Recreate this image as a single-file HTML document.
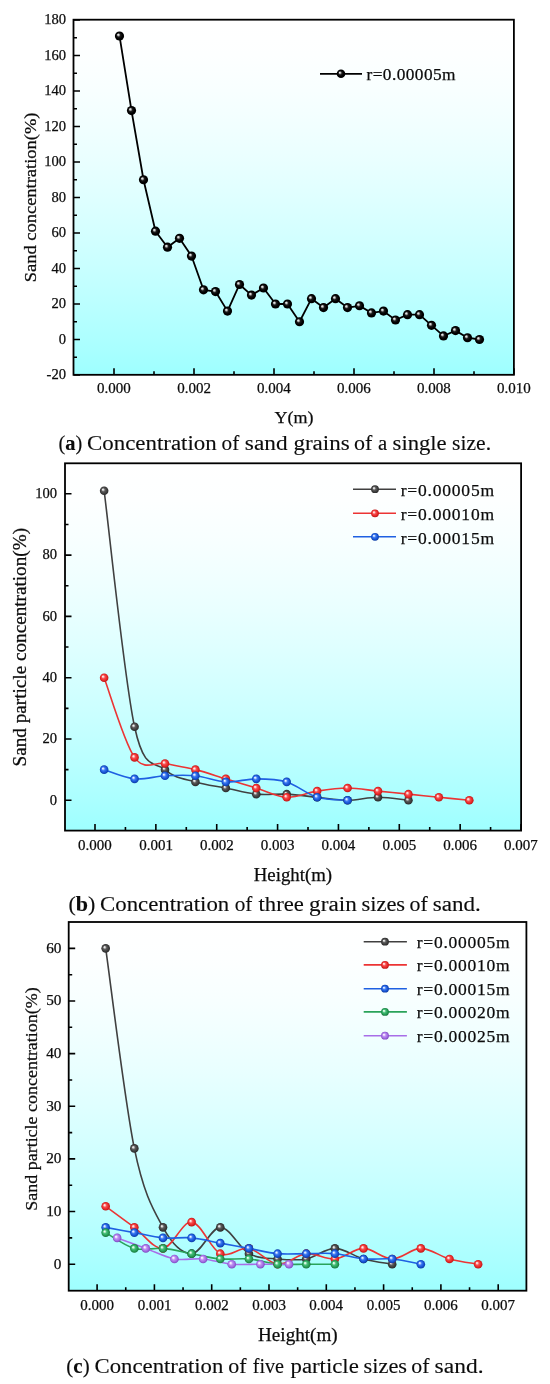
<!DOCTYPE html><html lang="en"><head><meta charset="utf-8"><title>Sand concentration vs height</title>
<style>html,body{margin:0;padding:0;background:#fff;overflow:hidden;}svg{display:block;}text{font-family:"Liberation Serif","Times New Roman",serif;fill:#0c0c0c;stroke:#0c0c0c;stroke-width:0.25px;}text.cap{stroke-width:0.12px;}</style></head><body>
<svg width="550" height="1384" viewBox="0 0 550 1384">
<rect x="0" y="0" width="550" height="1384" fill="#fff"/>
<defs>
<linearGradient id="bg" x1="0" y1="0" x2="0" y2="1"><stop offset="0" stop-color="rgb(255,255,255)"/><stop offset="0.1" stop-color="rgb(253,255,255)"/><stop offset="0.2" stop-color="rgb(248,255,255)"/><stop offset="0.3" stop-color="rgb(241,255,255)"/><stop offset="0.4" stop-color="rgb(233,255,255)"/><stop offset="0.5" stop-color="rgb(223,255,255)"/><stop offset="0.6" stop-color="rgb(212,255,255)"/><stop offset="0.7" stop-color="rgb(200,255,255)"/><stop offset="0.8" stop-color="rgb(187,255,255)"/><stop offset="0.9" stop-color="rgb(173,255,255)"/><stop offset="1" stop-color="rgb(158,255,255)"/></linearGradient>
<radialGradient id="sk" cx="0.5" cy="0.5" r="0.52" fx="0.34" fy="0.34"><stop offset="0" stop-color="#ffffff"/><stop offset="0.16" stop-color="#c8c8c8"/><stop offset="0.4" stop-color="#1c1c1c"/><stop offset="0.7" stop-color="#000000"/><stop offset="1" stop-color="#000000"/></radialGradient>
<radialGradient id="sk2" cx="0.5" cy="0.5" r="0.52" fx="0.34" fy="0.34"><stop offset="0" stop-color="#ffffff"/><stop offset="0.16" stop-color="#d8d8d8"/><stop offset="0.4" stop-color="#5e5e5e"/><stop offset="0.7" stop-color="#404040"/><stop offset="1" stop-color="#262626"/></radialGradient>
<radialGradient id="sr" cx="0.5" cy="0.5" r="0.52" fx="0.34" fy="0.34"><stop offset="0" stop-color="#ffffff"/><stop offset="0.16" stop-color="#ffd0d0"/><stop offset="0.4" stop-color="#f65050"/><stop offset="0.7" stop-color="#ea2a2a"/><stop offset="1" stop-color="#b81414"/></radialGradient>
<radialGradient id="sb" cx="0.5" cy="0.5" r="0.52" fx="0.34" fy="0.34"><stop offset="0" stop-color="#ffffff"/><stop offset="0.16" stop-color="#c8dcff"/><stop offset="0.4" stop-color="#3c7af0"/><stop offset="0.7" stop-color="#1a56d8"/><stop offset="1" stop-color="#0a3aa0"/></radialGradient>
<radialGradient id="sg" cx="0.5" cy="0.5" r="0.52" fx="0.34" fy="0.34"><stop offset="0" stop-color="#ffffff"/><stop offset="0.16" stop-color="#d0f4de"/><stop offset="0.4" stop-color="#48c07a"/><stop offset="0.7" stop-color="#28a058"/><stop offset="1" stop-color="#17743c"/></radialGradient>
<radialGradient id="sp" cx="0.5" cy="0.5" r="0.52" fx="0.34" fy="0.34"><stop offset="0" stop-color="#ffffff"/><stop offset="0.16" stop-color="#f2e4ff"/><stop offset="0.4" stop-color="#bf92f2"/><stop offset="0.7" stop-color="#a46ee4"/><stop offset="1" stop-color="#7a46bc"/></radialGradient>
</defs>
<rect x="73.5" y="19.7" width="440.4" height="355.1" fill="url(#bg)"/>
<path d="M73.5,375H80M73.5,339.5H80M73.5,304H80M73.5,268.5H80M73.5,233H80M73.5,197.5H80M73.5,162H80M73.5,126.5H80M73.5,91H80M73.5,55.5H80M73.5,20H80M73.5,357.25H77M73.5,321.75H77M73.5,286.25H77M73.5,250.75H77M73.5,215.25H77M73.5,179.75H77M73.5,144.25H77M73.5,108.75H77M73.5,73.25H77M73.5,37.75H77" stroke="#000" stroke-width="1.6" fill="none"/>
<path d="M114,374.8V368.3M194,374.8V368.3M274,374.8V368.3M354,374.8V368.3M434,374.8V368.3M514,374.8V368.3M154,374.8V371.3M234,374.8V371.3M314,374.8V371.3M394,374.8V371.3M474,374.8V371.3" stroke="#000" stroke-width="1.6" fill="none"/>
<rect x="73.5" y="19.7" width="440.4" height="355.1" fill="none" stroke="#000" stroke-width="1.8"/>
<text x="46.59" y="379" font-size="14.6" textLength="19.46" lengthAdjust="spacingAndGlyphs">-20</text>
<text x="58.76" y="343.5" font-size="14.6" textLength="7.3" lengthAdjust="spacingAndGlyphs">0</text>
<text x="51.46" y="308" font-size="14.6" textLength="14.6" lengthAdjust="spacingAndGlyphs">20</text>
<text x="51.46" y="272.5" font-size="14.6" textLength="14.6" lengthAdjust="spacingAndGlyphs">40</text>
<text x="51.46" y="237" font-size="14.6" textLength="14.6" lengthAdjust="spacingAndGlyphs">60</text>
<text x="51.46" y="201.5" font-size="14.6" textLength="14.6" lengthAdjust="spacingAndGlyphs">80</text>
<text x="44.16" y="166" font-size="14.6" textLength="21.9" lengthAdjust="spacingAndGlyphs">100</text>
<text x="44.16" y="130.5" font-size="14.6" textLength="21.9" lengthAdjust="spacingAndGlyphs">120</text>
<text x="44.16" y="95" font-size="14.6" textLength="21.9" lengthAdjust="spacingAndGlyphs">140</text>
<text x="44.16" y="59.5" font-size="14.6" textLength="21.9" lengthAdjust="spacingAndGlyphs">160</text>
<text x="44.16" y="24" font-size="14.6" textLength="21.9" lengthAdjust="spacingAndGlyphs">180</text>
<text x="97.12" y="393.3" font-size="15" textLength="33.75" lengthAdjust="spacingAndGlyphs">0.000</text>
<text x="177.25" y="393.3" font-size="15" textLength="33.75" lengthAdjust="spacingAndGlyphs">0.002</text>
<text x="256.96" y="393.3" font-size="15" textLength="33.75" lengthAdjust="spacingAndGlyphs">0.004</text>
<text x="337.06" y="393.3" font-size="15" textLength="33.75" lengthAdjust="spacingAndGlyphs">0.006</text>
<text x="417.12" y="393.3" font-size="15" textLength="33.75" lengthAdjust="spacingAndGlyphs">0.008</text>
<text x="497.12" y="393.3" font-size="15" textLength="33.75" lengthAdjust="spacingAndGlyphs">0.010</text>
<text transform="translate(35.5,282.23) rotate(-90)" x="0" y="0" font-size="17.5" textLength="169.65" lengthAdjust="spacingAndGlyphs">Sand concentration(%)</text>
<text x="274.4" y="422.8" font-size="17.7" textLength="38.99" lengthAdjust="spacingAndGlyphs">Y(m)</text>
<path d="M119.5,35.98 L131.5,110.53 L143.5,179.75 L155.5,231.22 L167.5,247.2 L179.5,238.33 L191.5,256.07 L203.5,289.8 L215.5,291.57 L227.5,311.1 L239.5,284.48 L251.5,295.12 L263.5,288.02 L275.5,304 L287.5,304 L299.5,321.75 L311.5,298.68 L323.5,307.55 L335.5,298.68 L347.5,307.55 L359.5,305.77 L371.5,312.88 L383.5,311.1 L395.5,319.98 L407.5,314.65 L419.5,314.65 L431.5,325.3 L443.5,335.95 L455.5,330.62 L467.5,337.73 L479.5,339.5" fill="none" stroke="#000" stroke-width="1.8" stroke-linejoin="round"/>
<circle cx="119.5" cy="35.98" r="4.6" fill="url(#sk)"/>
<circle cx="131.5" cy="110.53" r="4.6" fill="url(#sk)"/>
<circle cx="143.5" cy="179.75" r="4.6" fill="url(#sk)"/>
<circle cx="155.5" cy="231.22" r="4.6" fill="url(#sk)"/>
<circle cx="167.5" cy="247.2" r="4.6" fill="url(#sk)"/>
<circle cx="179.5" cy="238.33" r="4.6" fill="url(#sk)"/>
<circle cx="191.5" cy="256.07" r="4.6" fill="url(#sk)"/>
<circle cx="203.5" cy="289.8" r="4.6" fill="url(#sk)"/>
<circle cx="215.5" cy="291.57" r="4.6" fill="url(#sk)"/>
<circle cx="227.5" cy="311.1" r="4.6" fill="url(#sk)"/>
<circle cx="239.5" cy="284.48" r="4.6" fill="url(#sk)"/>
<circle cx="251.5" cy="295.12" r="4.6" fill="url(#sk)"/>
<circle cx="263.5" cy="288.02" r="4.6" fill="url(#sk)"/>
<circle cx="275.5" cy="304" r="4.6" fill="url(#sk)"/>
<circle cx="287.5" cy="304" r="4.6" fill="url(#sk)"/>
<circle cx="299.5" cy="321.75" r="4.6" fill="url(#sk)"/>
<circle cx="311.5" cy="298.68" r="4.6" fill="url(#sk)"/>
<circle cx="323.5" cy="307.55" r="4.6" fill="url(#sk)"/>
<circle cx="335.5" cy="298.68" r="4.6" fill="url(#sk)"/>
<circle cx="347.5" cy="307.55" r="4.6" fill="url(#sk)"/>
<circle cx="359.5" cy="305.77" r="4.6" fill="url(#sk)"/>
<circle cx="371.5" cy="312.88" r="4.6" fill="url(#sk)"/>
<circle cx="383.5" cy="311.1" r="4.6" fill="url(#sk)"/>
<circle cx="395.5" cy="319.98" r="4.6" fill="url(#sk)"/>
<circle cx="407.5" cy="314.65" r="4.6" fill="url(#sk)"/>
<circle cx="419.5" cy="314.65" r="4.6" fill="url(#sk)"/>
<circle cx="431.5" cy="325.3" r="4.6" fill="url(#sk)"/>
<circle cx="443.5" cy="335.95" r="4.6" fill="url(#sk)"/>
<circle cx="455.5" cy="330.62" r="4.6" fill="url(#sk)"/>
<circle cx="467.5" cy="337.73" r="4.6" fill="url(#sk)"/>
<circle cx="479.5" cy="339.5" r="4.6" fill="url(#sk)"/>
<line x1="320" y1="73.8" x2="362" y2="73.8" stroke="#000" stroke-width="1.8"/>
<circle cx="341" cy="73.8" r="4.3" fill="url(#sk)"/>
<text x="366.45" y="79.8" font-size="17.3" textLength="89.12" lengthAdjust="spacing">r=0.00005m</text>
<rect x="65" y="463.3" width="456.1" height="367.3" fill="url(#bg)"/>
<path d="M65,800.3H71.5M65,739H71.5M65,677.7H71.5M65,616.4H71.5M65,555.1H71.5M65,493.8H71.5M65,769.65H68.5M65,708.35H68.5M65,647.05H68.5M65,585.75H68.5M65,524.45H68.5" stroke="#000" stroke-width="1.6" fill="none"/>
<path d="M95,830.6V824.1M155.86,830.6V824.1M216.72,830.6V824.1M277.58,830.6V824.1M338.44,830.6V824.1M399.3,830.6V824.1M460.16,830.6V824.1M521.02,830.6V824.1M125.43,830.6V827.1M186.29,830.6V827.1M247.15,830.6V827.1M308.01,830.6V827.1M368.87,830.6V827.1M429.73,830.6V827.1M490.59,830.6V827.1" stroke="#000" stroke-width="1.6" fill="none"/>
<rect x="65" y="463.3" width="456.1" height="367.3" fill="none" stroke="#000" stroke-width="1.8"/>
<text x="49.86" y="804.5" font-size="14.6" textLength="7.3" lengthAdjust="spacingAndGlyphs">0</text>
<text x="42.56" y="743.2" font-size="14.6" textLength="14.6" lengthAdjust="spacingAndGlyphs">20</text>
<text x="42.56" y="681.9" font-size="14.6" textLength="14.6" lengthAdjust="spacingAndGlyphs">40</text>
<text x="42.56" y="620.6" font-size="14.6" textLength="14.6" lengthAdjust="spacingAndGlyphs">60</text>
<text x="42.56" y="559.3" font-size="14.6" textLength="14.6" lengthAdjust="spacingAndGlyphs">80</text>
<text x="35.26" y="498" font-size="14.6" textLength="21.9" lengthAdjust="spacingAndGlyphs">100</text>
<text x="78.12" y="850.4" font-size="15" textLength="33.75" lengthAdjust="spacingAndGlyphs">0.000</text>
<text x="139.15" y="850.4" font-size="15" textLength="33.75" lengthAdjust="spacingAndGlyphs">0.001</text>
<text x="199.97" y="850.4" font-size="15" textLength="33.75" lengthAdjust="spacingAndGlyphs">0.002</text>
<text x="260.71" y="850.4" font-size="15" textLength="33.75" lengthAdjust="spacingAndGlyphs">0.003</text>
<text x="321.4" y="850.4" font-size="15" textLength="33.75" lengthAdjust="spacingAndGlyphs">0.004</text>
<text x="382.43" y="850.4" font-size="15" textLength="33.75" lengthAdjust="spacingAndGlyphs">0.005</text>
<text x="443.22" y="850.4" font-size="15" textLength="33.75" lengthAdjust="spacingAndGlyphs">0.006</text>
<text x="504.08" y="850.4" font-size="15" textLength="33.75" lengthAdjust="spacingAndGlyphs">0.007</text>
<text transform="translate(25.6,766.48) rotate(-90)" x="0" y="0" font-size="18" textLength="238.53" lengthAdjust="spacingAndGlyphs">Sand particle concentration(%)</text>
<text x="253.76" y="880.9" font-size="19" textLength="78.27" lengthAdjust="spacingAndGlyphs">Height(m)</text>
<path d="M104.13,490.73 C109.2,530.07 124.42,680.25 134.56,726.74 C144.7,773.23 154.85,760.45 164.99,769.65 C175.13,778.85 185.28,778.85 195.42,781.91 C205.56,784.97 215.71,786 225.85,788.04 C235.99,790.08 246.14,793.15 256.28,794.17 C266.42,795.19 276.57,793.66 286.71,794.17 C296.85,794.68 307,796.21 317.14,797.23 C327.28,798.26 337.43,800.3 347.57,800.3 C357.71,800.3 367.86,797.23 378,797.23 C388.14,797.23 403.36,799.79 408.43,800.3" fill="none" stroke="#404040" stroke-width="1.6"/>
<path d="M104.13,677.7 C109.2,690.98 124.42,743.09 134.56,757.39 C144.7,771.69 154.85,761.48 164.99,763.52 C175.13,765.56 185.28,767.1 195.42,769.65 C205.56,772.2 215.71,775.78 225.85,778.84 C235.99,781.91 246.14,784.97 256.28,788.04 C266.42,791.11 276.57,796.72 286.71,797.23 C296.85,797.75 307,792.64 317.14,791.1 C327.28,789.57 337.43,788.04 347.57,788.04 C357.71,788.04 367.86,790.08 378,791.1 C388.14,792.13 398.29,793.15 408.43,794.17 C418.57,795.19 428.72,796.21 438.86,797.23 C449,798.26 464.22,799.79 469.29,800.3" fill="none" stroke="#ec3434" stroke-width="1.6"/>
<path d="M104.13,769.65 C109.2,771.18 124.42,777.82 134.56,778.84 C144.7,779.87 154.85,776.29 164.99,775.78 C175.13,775.27 185.28,774.76 195.42,775.78 C205.56,776.8 215.71,781.4 225.85,781.91 C235.99,782.42 246.14,778.84 256.28,778.84 C266.42,778.84 276.57,778.85 286.71,781.91 C296.85,784.97 307,794.17 317.14,797.23 C327.28,800.3 342.5,799.79 347.57,800.3" fill="none" stroke="#1f60e2" stroke-width="1.6"/>
<circle cx="104.13" cy="490.73" r="4.3" fill="url(#sk2)"/>
<circle cx="134.56" cy="726.74" r="4.3" fill="url(#sk2)"/>
<circle cx="164.99" cy="769.65" r="4.3" fill="url(#sk2)"/>
<circle cx="195.42" cy="781.91" r="4.3" fill="url(#sk2)"/>
<circle cx="225.85" cy="788.04" r="4.3" fill="url(#sk2)"/>
<circle cx="256.28" cy="794.17" r="4.3" fill="url(#sk2)"/>
<circle cx="286.71" cy="794.17" r="4.3" fill="url(#sk2)"/>
<circle cx="317.14" cy="797.23" r="4.3" fill="url(#sk2)"/>
<circle cx="347.57" cy="800.3" r="4.3" fill="url(#sk2)"/>
<circle cx="378" cy="797.23" r="4.3" fill="url(#sk2)"/>
<circle cx="408.43" cy="800.3" r="4.3" fill="url(#sk2)"/>
<circle cx="104.13" cy="677.7" r="4.3" fill="url(#sr)"/>
<circle cx="134.56" cy="757.39" r="4.3" fill="url(#sr)"/>
<circle cx="164.99" cy="763.52" r="4.3" fill="url(#sr)"/>
<circle cx="195.42" cy="769.65" r="4.3" fill="url(#sr)"/>
<circle cx="225.85" cy="778.84" r="4.3" fill="url(#sr)"/>
<circle cx="256.28" cy="788.04" r="4.3" fill="url(#sr)"/>
<circle cx="286.71" cy="797.23" r="4.3" fill="url(#sr)"/>
<circle cx="317.14" cy="791.1" r="4.3" fill="url(#sr)"/>
<circle cx="347.57" cy="788.04" r="4.3" fill="url(#sr)"/>
<circle cx="378" cy="791.1" r="4.3" fill="url(#sr)"/>
<circle cx="408.43" cy="794.17" r="4.3" fill="url(#sr)"/>
<circle cx="438.86" cy="797.23" r="4.3" fill="url(#sr)"/>
<circle cx="469.29" cy="800.3" r="4.3" fill="url(#sr)"/>
<circle cx="104.13" cy="769.65" r="4.3" fill="url(#sb)"/>
<circle cx="134.56" cy="778.84" r="4.3" fill="url(#sb)"/>
<circle cx="164.99" cy="775.78" r="4.3" fill="url(#sb)"/>
<circle cx="195.42" cy="775.78" r="4.3" fill="url(#sb)"/>
<circle cx="225.85" cy="781.91" r="4.3" fill="url(#sb)"/>
<circle cx="256.28" cy="778.84" r="4.3" fill="url(#sb)"/>
<circle cx="286.71" cy="781.91" r="4.3" fill="url(#sb)"/>
<circle cx="317.14" cy="797.23" r="4.3" fill="url(#sb)"/>
<circle cx="347.57" cy="800.3" r="4.3" fill="url(#sb)"/>
<line x1="353" y1="489.2" x2="396" y2="489.2" stroke="#404040" stroke-width="1.6"/>
<circle cx="375" cy="489.2" r="3.9" fill="url(#sk2)"/>
<text x="400.75" y="496.1" font-size="17.5" textLength="93.32" lengthAdjust="spacing">r=0.00005m</text>
<line x1="353" y1="513.3" x2="396" y2="513.3" stroke="#ec3434" stroke-width="1.6"/>
<circle cx="375" cy="513.3" r="3.9" fill="url(#sr)"/>
<text x="400.75" y="520.2" font-size="17.5" textLength="93.32" lengthAdjust="spacing">r=0.00010m</text>
<line x1="353" y1="536.8" x2="396" y2="536.8" stroke="#1f60e2" stroke-width="1.6"/>
<circle cx="375" cy="536.8" r="3.9" fill="url(#sb)"/>
<text x="400.75" y="543.7" font-size="17.5" textLength="93.32" lengthAdjust="spacing">r=0.00015m</text>
<rect x="68.7" y="922" width="457.7" height="368.7" fill="url(#bg)"/>
<path d="M68.7,1264.2H75.2M68.7,1211.56H75.2M68.7,1158.92H75.2M68.7,1106.28H75.2M68.7,1053.64H75.2M68.7,1001H75.2M68.7,948.36H75.2M68.7,1237.88H72.2M68.7,1185.24H72.2M68.7,1132.6H72.2M68.7,1079.96H72.2M68.7,1027.32H72.2M68.7,974.68H72.2" stroke="#000" stroke-width="1.6" fill="none"/>
<path d="M97.1,1290.7V1284.2M154.4,1290.7V1284.2M211.7,1290.7V1284.2M269,1290.7V1284.2M326.3,1290.7V1284.2M383.6,1290.7V1284.2M440.9,1290.7V1284.2M498.2,1290.7V1284.2M125.75,1290.7V1287.2M183.05,1290.7V1287.2M240.35,1290.7V1287.2M297.65,1290.7V1287.2M354.95,1290.7V1287.2M412.25,1290.7V1287.2M469.55,1290.7V1287.2" stroke="#000" stroke-width="1.6" fill="none"/>
<rect x="68.7" y="922" width="457.7" height="368.7" fill="none" stroke="#000" stroke-width="1.8"/>
<text x="53.83" y="1268.5" font-size="15.3" textLength="7.65" lengthAdjust="spacingAndGlyphs">0</text>
<text x="46.18" y="1215.86" font-size="15.3" textLength="15.3" lengthAdjust="spacingAndGlyphs">10</text>
<text x="46.18" y="1163.22" font-size="15.3" textLength="15.3" lengthAdjust="spacingAndGlyphs">20</text>
<text x="46.18" y="1110.58" font-size="15.3" textLength="15.3" lengthAdjust="spacingAndGlyphs">30</text>
<text x="46.18" y="1057.94" font-size="15.3" textLength="15.3" lengthAdjust="spacingAndGlyphs">40</text>
<text x="46.18" y="1005.3" font-size="15.3" textLength="15.3" lengthAdjust="spacingAndGlyphs">50</text>
<text x="46.18" y="952.66" font-size="15.3" textLength="15.3" lengthAdjust="spacingAndGlyphs">60</text>
<text x="80.22" y="1310.2" font-size="15" textLength="33.75" lengthAdjust="spacingAndGlyphs">0.000</text>
<text x="137.69" y="1310.2" font-size="15" textLength="33.75" lengthAdjust="spacingAndGlyphs">0.001</text>
<text x="194.95" y="1310.2" font-size="15" textLength="33.75" lengthAdjust="spacingAndGlyphs">0.002</text>
<text x="252.13" y="1310.2" font-size="15" textLength="33.75" lengthAdjust="spacingAndGlyphs">0.003</text>
<text x="309.26" y="1310.2" font-size="15" textLength="33.75" lengthAdjust="spacingAndGlyphs">0.004</text>
<text x="366.73" y="1310.2" font-size="15" textLength="33.75" lengthAdjust="spacingAndGlyphs">0.005</text>
<text x="423.96" y="1310.2" font-size="15" textLength="33.75" lengthAdjust="spacingAndGlyphs">0.006</text>
<text x="481.26" y="1310.2" font-size="15" textLength="33.75" lengthAdjust="spacingAndGlyphs">0.007</text>
<text transform="translate(37.4,1210.7) rotate(-90)" x="0" y="0" font-size="17.5" textLength="223.39" lengthAdjust="spacingAndGlyphs">Sand particle concentration(%)</text>
<text x="258.05" y="1340.8" font-size="19" textLength="79.59" lengthAdjust="spacingAndGlyphs">Height(m)</text>
<path d="M105.69,948.36 C110.47,981.7 124.8,1101.89 134.34,1148.39 C143.9,1194.89 153.44,1209.81 163,1227.35 C172.55,1244.9 182.09,1253.67 191.64,1253.67 C201.19,1253.67 210.74,1227.35 220.29,1227.35 C229.84,1227.35 239.39,1248.41 248.94,1253.67 C258.5,1258.94 268.05,1258.06 277.6,1258.94 C287.15,1259.81 296.69,1260.69 306.25,1258.94 C315.8,1257.18 325.34,1248.41 334.89,1248.41 C344.44,1248.41 354,1256.3 363.55,1258.94 C373.1,1261.57 387.42,1263.32 392.2,1264.2" fill="none" stroke="#404040" stroke-width="1.6"/>
<path d="M105.69,1206.3 C110.47,1209.81 124.8,1220.33 134.34,1227.35 C143.9,1234.37 153.44,1249.29 163,1248.41 C172.55,1247.53 182.09,1221.21 191.64,1222.09 C201.19,1222.97 210.74,1249.29 220.29,1253.67 C229.84,1258.06 239.39,1246.65 248.94,1248.41 C258.5,1250.16 268.05,1263.32 277.6,1264.2 C287.15,1265.08 296.69,1254.55 306.25,1253.67 C315.8,1252.79 325.34,1259.81 334.89,1258.94 C344.44,1258.06 354,1248.41 363.55,1248.41 C373.1,1248.41 382.65,1258.94 392.2,1258.94 C401.75,1258.94 411.3,1248.41 420.85,1248.41 C430.4,1248.41 439.94,1256.3 449.5,1258.94 C459.05,1261.57 473.37,1263.32 478.14,1264.2" fill="none" stroke="#ec3434" stroke-width="1.6"/>
<path d="M105.69,1227.35 C110.47,1228.23 124.8,1230.86 134.34,1232.62 C143.9,1234.37 153.44,1237 163,1237.88 C172.55,1238.76 182.09,1237 191.64,1237.88 C201.19,1238.76 210.74,1241.39 220.29,1243.14 C229.84,1244.9 239.39,1246.65 248.94,1248.41 C258.5,1250.16 268.05,1252.79 277.6,1253.67 C287.15,1254.55 296.69,1253.67 306.25,1253.67 C315.8,1253.67 325.34,1252.79 334.89,1253.67 C344.44,1254.55 354,1258.06 363.55,1258.94 C373.1,1259.81 382.65,1258.06 392.2,1258.94 C401.75,1259.81 416.07,1263.32 420.85,1264.2" fill="none" stroke="#1f60e2" stroke-width="1.6"/>
<path d="M105.69,1232.62 C110.47,1235.25 124.8,1245.78 134.34,1248.41 C143.9,1251.04 153.44,1247.53 163,1248.41 C172.55,1249.29 182.09,1251.92 191.64,1253.67 C201.19,1255.43 210.74,1258.06 220.29,1258.94 C229.84,1259.81 239.39,1258.06 248.94,1258.94 C258.5,1259.81 268.05,1263.32 277.6,1264.2 C287.15,1265.08 296.69,1264.2 306.25,1264.2 C315.8,1264.2 330.12,1264.2 334.89,1264.2" fill="none" stroke="#2aa35a" stroke-width="1.6"/>
<path d="M117.16,1237.88 C121.93,1239.63 136.25,1244.9 145.81,1248.41 C155.36,1251.92 164.9,1257.18 174.45,1258.94 C184,1260.69 193.56,1258.06 203.11,1258.94 C212.66,1259.81 222.21,1263.32 231.75,1264.2 C241.3,1265.08 250.85,1264.2 260.4,1264.2 C269.95,1264.2 284.28,1264.2 289.06,1264.2" fill="none" stroke="#a86ee8" stroke-width="1.6"/>
<circle cx="105.69" cy="948.36" r="4.3" fill="url(#sk2)"/>
<circle cx="134.34" cy="1148.39" r="4.3" fill="url(#sk2)"/>
<circle cx="163" cy="1227.35" r="4.3" fill="url(#sk2)"/>
<circle cx="191.64" cy="1253.67" r="4.3" fill="url(#sk2)"/>
<circle cx="220.29" cy="1227.35" r="4.3" fill="url(#sk2)"/>
<circle cx="248.94" cy="1253.67" r="4.3" fill="url(#sk2)"/>
<circle cx="277.6" cy="1258.94" r="4.3" fill="url(#sk2)"/>
<circle cx="306.25" cy="1258.94" r="4.3" fill="url(#sk2)"/>
<circle cx="334.89" cy="1248.41" r="4.3" fill="url(#sk2)"/>
<circle cx="363.55" cy="1258.94" r="4.3" fill="url(#sk2)"/>
<circle cx="392.2" cy="1264.2" r="4.3" fill="url(#sk2)"/>
<circle cx="105.69" cy="1206.3" r="4.3" fill="url(#sr)"/>
<circle cx="134.34" cy="1227.35" r="4.3" fill="url(#sr)"/>
<circle cx="163" cy="1248.41" r="4.3" fill="url(#sr)"/>
<circle cx="191.64" cy="1222.09" r="4.3" fill="url(#sr)"/>
<circle cx="220.29" cy="1253.67" r="4.3" fill="url(#sr)"/>
<circle cx="248.94" cy="1248.41" r="4.3" fill="url(#sr)"/>
<circle cx="277.6" cy="1264.2" r="4.3" fill="url(#sr)"/>
<circle cx="306.25" cy="1253.67" r="4.3" fill="url(#sr)"/>
<circle cx="334.89" cy="1258.94" r="4.3" fill="url(#sr)"/>
<circle cx="363.55" cy="1248.41" r="4.3" fill="url(#sr)"/>
<circle cx="392.2" cy="1258.94" r="4.3" fill="url(#sr)"/>
<circle cx="420.85" cy="1248.41" r="4.3" fill="url(#sr)"/>
<circle cx="449.5" cy="1258.94" r="4.3" fill="url(#sr)"/>
<circle cx="478.14" cy="1264.2" r="4.3" fill="url(#sr)"/>
<circle cx="105.69" cy="1227.35" r="4.3" fill="url(#sb)"/>
<circle cx="134.34" cy="1232.62" r="4.3" fill="url(#sb)"/>
<circle cx="163" cy="1237.88" r="4.3" fill="url(#sb)"/>
<circle cx="191.64" cy="1237.88" r="4.3" fill="url(#sb)"/>
<circle cx="220.29" cy="1243.14" r="4.3" fill="url(#sb)"/>
<circle cx="248.94" cy="1248.41" r="4.3" fill="url(#sb)"/>
<circle cx="277.6" cy="1253.67" r="4.3" fill="url(#sb)"/>
<circle cx="306.25" cy="1253.67" r="4.3" fill="url(#sb)"/>
<circle cx="334.89" cy="1253.67" r="4.3" fill="url(#sb)"/>
<circle cx="363.55" cy="1258.94" r="4.3" fill="url(#sb)"/>
<circle cx="392.2" cy="1258.94" r="4.3" fill="url(#sb)"/>
<circle cx="420.85" cy="1264.2" r="4.3" fill="url(#sb)"/>
<circle cx="105.69" cy="1232.62" r="4.3" fill="url(#sg)"/>
<circle cx="134.34" cy="1248.41" r="4.3" fill="url(#sg)"/>
<circle cx="163" cy="1248.41" r="4.3" fill="url(#sg)"/>
<circle cx="191.64" cy="1253.67" r="4.3" fill="url(#sg)"/>
<circle cx="220.29" cy="1258.94" r="4.3" fill="url(#sg)"/>
<circle cx="248.94" cy="1258.94" r="4.3" fill="url(#sg)"/>
<circle cx="277.6" cy="1264.2" r="4.3" fill="url(#sg)"/>
<circle cx="306.25" cy="1264.2" r="4.3" fill="url(#sg)"/>
<circle cx="334.89" cy="1264.2" r="4.3" fill="url(#sg)"/>
<circle cx="117.16" cy="1237.88" r="4.3" fill="url(#sp)"/>
<circle cx="145.81" cy="1248.41" r="4.3" fill="url(#sp)"/>
<circle cx="174.45" cy="1258.94" r="4.3" fill="url(#sp)"/>
<circle cx="203.11" cy="1258.94" r="4.3" fill="url(#sp)"/>
<circle cx="231.75" cy="1264.2" r="4.3" fill="url(#sp)"/>
<circle cx="260.4" cy="1264.2" r="4.3" fill="url(#sp)"/>
<circle cx="289.06" cy="1264.2" r="4.3" fill="url(#sp)"/>
<line x1="363.7" y1="941.7" x2="406.9" y2="941.7" stroke="#404040" stroke-width="1.6"/>
<circle cx="385" cy="941.7" r="3.9" fill="url(#sk2)"/>
<text x="416.75" y="947.7" font-size="17.5" textLength="92.92" lengthAdjust="spacing">r=0.00005m</text>
<line x1="363.7" y1="964.9" x2="406.9" y2="964.9" stroke="#ec3434" stroke-width="1.6"/>
<circle cx="385" cy="964.9" r="3.9" fill="url(#sr)"/>
<text x="416.75" y="970.9" font-size="17.5" textLength="92.92" lengthAdjust="spacing">r=0.00010m</text>
<line x1="363.7" y1="988.7" x2="406.9" y2="988.7" stroke="#1f60e2" stroke-width="1.6"/>
<circle cx="385" cy="988.7" r="3.9" fill="url(#sb)"/>
<text x="416.75" y="994.7" font-size="17.5" textLength="92.92" lengthAdjust="spacing">r=0.00015m</text>
<line x1="363.7" y1="1011.9" x2="406.9" y2="1011.9" stroke="#2aa35a" stroke-width="1.6"/>
<circle cx="385" cy="1011.9" r="3.9" fill="url(#sg)"/>
<text x="416.75" y="1017.9" font-size="17.5" textLength="92.92" lengthAdjust="spacing">r=0.00020m</text>
<line x1="363.7" y1="1035.7" x2="406.9" y2="1035.7" stroke="#a86ee8" stroke-width="1.6"/>
<circle cx="385" cy="1035.7" r="3.9" fill="url(#sp)"/>
<text x="416.75" y="1041.7" font-size="17.5" textLength="92.92" lengthAdjust="spacing">r=0.00025m</text>
<text class="cap" x="58.5" y="449.8" font-size="20" textLength="23.9" lengthAdjust="spacingAndGlyphs">(<tspan font-weight="bold">a</tspan>)</text>
<text class="cap" x="87.06" y="449.8" font-size="20" textLength="129.69" lengthAdjust="spacingAndGlyphs">Concentration</text>
<text class="cap" x="221.59" y="449.8" font-size="20" textLength="17.71" lengthAdjust="spacingAndGlyphs">of</text>
<text class="cap" x="244.84" y="449.8" font-size="20" textLength="42.74" lengthAdjust="spacingAndGlyphs">sand</text>
<text class="cap" x="293.41" y="449.8" font-size="20" textLength="56.32" lengthAdjust="spacingAndGlyphs">grains</text>
<text class="cap" x="354.06" y="449.8" font-size="20" textLength="18.34" lengthAdjust="spacingAndGlyphs">of</text>
<text class="cap" x="378.07" y="449.8" font-size="20" textLength="9.21" lengthAdjust="spacingAndGlyphs">a</text>
<text class="cap" x="392.57" y="449.8" font-size="20" textLength="54.11" lengthAdjust="spacingAndGlyphs">single</text>
<text class="cap" x="452.12" y="449.8" font-size="20" textLength="38.91" lengthAdjust="spacingAndGlyphs">size.</text>
<text class="cap" x="68.43" y="911.4" font-size="20" textLength="26.94" lengthAdjust="spacingAndGlyphs">(<tspan font-weight="bold">b</tspan>)</text>
<text class="cap" x="100.06" y="911.4" font-size="20" textLength="129.18" lengthAdjust="spacingAndGlyphs">Concentration</text>
<text class="cap" x="234.69" y="911.4" font-size="20" textLength="17.71" lengthAdjust="spacingAndGlyphs">of</text>
<text class="cap" x="258.58" y="911.4" font-size="20" textLength="45.21" lengthAdjust="spacingAndGlyphs">three</text>
<text class="cap" x="309.1" y="911.4" font-size="20" textLength="47.65" lengthAdjust="spacingAndGlyphs">grain</text>
<text class="cap" x="361.48" y="911.4" font-size="20" textLength="43.63" lengthAdjust="spacingAndGlyphs">sizes</text>
<text class="cap" x="409.47" y="911.4" font-size="20" textLength="18.23" lengthAdjust="spacingAndGlyphs">of</text>
<text class="cap" x="432.75" y="911.4" font-size="20" textLength="48.07" lengthAdjust="spacingAndGlyphs">sand.</text>
<text class="cap" x="66.38" y="1373.2" font-size="20" textLength="23.24" lengthAdjust="spacingAndGlyphs">(<tspan font-weight="bold">c</tspan>)</text>
<text class="cap" x="94.57" y="1373.2" font-size="20" textLength="128.78" lengthAdjust="spacingAndGlyphs">Concentration</text>
<text class="cap" x="228.16" y="1373.2" font-size="20" textLength="18.34" lengthAdjust="spacingAndGlyphs">of</text>
<text class="cap" x="252.68" y="1373.2" font-size="20" textLength="31.32" lengthAdjust="spacingAndGlyphs">five</text>
<text class="cap" x="290.53" y="1373.2" font-size="20" textLength="68.26" lengthAdjust="spacingAndGlyphs">particle</text>
<text class="cap" x="363.58" y="1373.2" font-size="20" textLength="43.42" lengthAdjust="spacingAndGlyphs">sizes</text>
<text class="cap" x="411.37" y="1373.2" font-size="20" textLength="18.23" lengthAdjust="spacingAndGlyphs">of</text>
<text class="cap" x="434.64" y="1373.2" font-size="20" textLength="48.91" lengthAdjust="spacingAndGlyphs">sand.</text>
</svg></body></html>
